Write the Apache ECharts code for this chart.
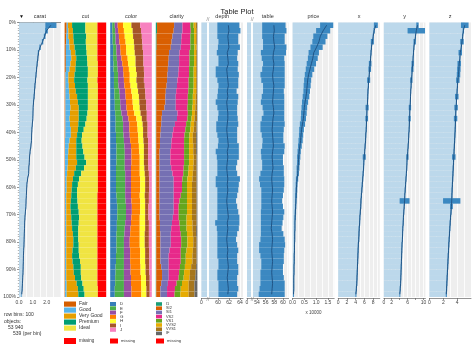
<!DOCTYPE html>
<html>
<head>
<meta charset="utf-8">
<script src="https://cdn.jsdelivr.net/npm/echarts@6/dist/echarts.min.js"></script>
<style>
html,body{margin:0;padding:0;background:#fff}
#chart{width:474px;height:346px}
</style>
</head>
<body>
<div id="chart"></div>
<script>
// ---- binned data: 50 bins, sorted by carat (descending) ----

// carat (mean / sd per bin)
const caratMean = [2.30,1.98,1.85,1.70,1.52,1.40,1.36,1.31,1.27,1.23,
  1.19,1.15,1.12,1.09,1.05,1.02,1.01,1.00,0.96,0.93,
  0.91,0.90,0.86,0.80,0.76,0.74,0.71,0.70,0.62,0.57,
  0.55,0.53,0.51,0.50,0.46,0.43,0.41,0.40,0.38,0.37,
  0.36,0.34,0.32,0.31,0.30,0.29,0.27,0.25,0.23,0.20];
const caratSd = [0.40,0.10,0.06,0.05,0.05,0.04,0.03,0.03,0.03,0.03,
  0.03,0.03,0.03,0.03,0.03,0.02,0.02,0.02,0.02,0.02,
  0.02,0.02,0.02,0.02,0.02,0.02,0.02,0.02,0.02,0.02,
  0.02,0.02,0.02,0.02,0.02,0.02,0.02,0.02,0.02,0.02,
  0.02,0.02,0.02,0.02,0.02,0.02,0.02,0.02,0.02,0.02];

// cut shares (%), missing included
const cutFair = [5,5,4,4,3,3,3,3,3,2, 2,2,2,2,2,2,2,2,2,2, 2,1,1,1,1,1,1,1,1,1, 1,1,1,1,1,1,1,1,1,1, 1,1,1,1,1,1,1,1,1,1];
const cutGood = [3,4,5,7,9,12,13,11,9,7, 7,8,9,10,11,12,11,10,11,13, 13,11,9,8,7,7,6,5,4,4, 4,3,3,3,3,3,3,3,3,3, 3,3,3,3,3,3,3,4,4,4];
const cutVeryGood = [10,11,12,11,12,11,12,13,14,15, 14,15,16,18,19,20,21,22,20,17, 15,16,18,19,20,22,20,17,15,13, 12,12,11,10,11,12,13,14,16,17, 17,15,14,15,17,18,21,24,27,28];
const cutPremium = [32,30,31,29,28,27,26,28,30,32, 32,31,29,26,24,22,21,19,17,14, 12,13,15,17,20,22,20,17,15,14, 13,14,16,18,19,19,17,15,13,12, 13,15,17,18,18,17,15,14,14,15];
const cutIdeal = [29,29,27,28,27,26,25,25,24,24, 24,24,24,24,24,24,25,27,30,34, 38,39,37,35,32,28,33,40,45,48, 50,49,48,47,45,44,45,46,46,46, 45,45,44,42,40,40,39,36,34,32];
const cutMissing = [21,21,21,21,21,21,21,20,20,20, 21,20,20,20,20,20,20,20,20,20, 20,20,20,20,20,20,20,20,20,20, 20,21,21,21,21,21,21,21,21,21, 21,21,21,21,21,21,21,21,20,20];

// color shares (%)
const colorD = [5,5,6,6,7,7,7,8,8,9, 9,9,10,10,11,11,12,13,13,13, 14,14,15,15,15,15,14,14,14,14, 14,15,16,17,17,17,16,16,15,15, 15,15,14,14,13,13,12,12,11,11];
const colorE = [6,7,7,7,8,8,9,9,10,10, 10,11,12,13,13,14,15,17,18,18, 18,19,19,20,20,20,21,22,22,22, 22,21,21,21,21,21,20,19,19,18, 18,18,19,19,20,20,21,21,22,22];
const colorF = [7,7,8,9,9,10,11,12,13,13, 14,14,14,14,14,14,14,14,15,15, 15,15,16,16,16,16,15,14,14,14, 14,14,14,14,14,13,14,14,14,14, 14,15,15,15,16,16,17,17,18,18];
const colorG = [13,14,14,15,14,14,15,14,14,15, 14,15,15,16,16,16,17,19,19,20, 20,20,19,19,20,20,21,21,22,22, 22,21,21,20,20,20,21,22,23,24, 24,24,24,24,24,24,24,24,24,24];
const colorH = [20,21,20,20,20,20,19,18,17,17, 16,16,16,16,16,16,15,13,13,13, 12,12,12,11,10,10,11,12,12,12, 12,12,12,12,12,13,13,13,12,12, 12,12,12,12,12,12,12,12,12,12];
const colorI = [21,20,21,20,20,20,19,19,19,18, 18,18,17,16,16,16,15,12,12,11, 11,11,10,10,10,10,10,10,10,10, 10,10,9,8,8,8,9,9,10,10, 10,10,10,10,9,9,9,9,8,8];
const colorJ = [28,26,24,23,22,21,20,20,19,18, 19,17,16,15,14,13,12,12,10,10, 10,9,9,9,9,9,8,7,6,6, 6,7,7,8,8,8,7,7,7,7, 7,6,6,6,6,6,5,5,5,5];

// clarity shares (%)
const clarityI1 = [3,3,2,2,2,1,1,1,1,1, 1,1,1,1,1,1,1,1,1,1, 1,1,1,1,1,1,1,1,1,1, 1,1,1,1,1,1,1,1,1,1, 1,1,1,1,1,1,1,1,1,1];
const claritySI2 = [41,40,38,36,34,31,30,29,28,27, 26,25,23,22,22,20,14,13,12,11, 10,9,9,8,8,8,8,8,8,8, 8,8,8,8,8,8,9,9,10,10, 10,10,10,10,12,14,14,12,10,10];
const claritySI1 = [20,21,22,23,24,25,25,26,26,26, 25,25,25,25,25,27,37,37,33,30, 29,28,27,26,26,26,28,31,34,34, 34,34,34,34,34,32,29,27,25,25, 25,22,20,20,18,16,16,16,16,16];
const clarityVS2 = [19,20,21,22,23,24,25,25,25,26, 27,28,29,29,29,28,25,25,27,29, 29,30,31,33,33,33,30,26,21,20, 20,17,14,12,12,14,18,21,24,25, 25,27,29,29,27,25,24,21,19,18];
const clarityVS1 = [8,8,9,9,10,11,11,11,11,11, 12,12,12,12,12,12,10,10,11,12, 12,12,12,12,12,12,12,12,12,12, 12,15,18,20,20,19,17,16,15,15, 15,14,12,12,12,12,12,13,14,14];
const clarityVVS2 = [5,5,5,5,5,5,5,5,6,6, 6,6,7,7,7,7,7,7,8,8, 8,9,10,10,11,11,11,11,12,12, 12,12,12,12,12,13,14,14,14,14, 14,15,16,16,15,14,14,16,19,20];
const clarityVVS1 = [3,2,2,2,1,2,2,2,2,2, 2,2,2,3,3,4,5,6,6,7, 8,8,7,7,7,7,8,9,10,11, 11,11,11,11,11,11,10,9,8,8, 8,9,10,10,12,14,14,14,14,14];
const clarityIF = [1,1,1,1,1,1,1,1,1,1, 1,1,1,1,1,1,1,1,2,2, 3,3,3,3,2,2,2,2,2,2, 2,2,2,2,2,2,2,3,3,2, 2,2,2,2,3,4,5,7,7,7];

// depth
const depthMean = [61.9,62.0,61.8,61.9,62.0,61.7,61.8,61.9,61.6,61.7,
  61.8,61.9,61.7,61.8,61.6,61.7,61.8,61.8,61.7,61.6,
  61.7,61.8,61.9,61.7,61.8,61.7,61.6,61.7,61.8,61.7,
  61.8,61.7,61.6,61.7,61.8,61.9,61.7,61.8,61.7,61.6,
  61.7,61.8,61.7,61.8,61.9,61.8,61.7,61.8,61.9,61.8];
const depthSd = [2.0,2.1,1.9,1.8,2.0,1.9,1.7,1.8,2.0,2.1,
  1.9,1.8,1.7,1.9,2.0,1.8,1.7,1.8,2.0,1.9,
  1.8,1.7,1.9,2.1,2.0,1.8,1.7,1.8,2.2,2.1,
  1.9,1.8,1.7,1.8,1.9,2.0,2.2,2.0,1.8,1.7,
  1.8,1.9,1.8,1.7,1.8,1.9,1.8,1.7,1.8,1.7];

// table
const tableMean = [57.9,58.0,57.8,57.9,58.1,57.8,57.7,57.9,57.8,57.6,
  57.7,57.9,57.8,57.7,57.6,57.8,57.9,57.7,57.6,57.5,
  57.6,57.7,57.8,57.6,57.5,57.6,57.7,57.5,57.4,57.5,
  57.6,57.5,57.4,57.5,57.6,57.5,57.4,57.3,57.5,57.6,
  57.5,57.4,57.5,57.6,57.5,57.4,57.5,57.6,57.5,57.4];
const tableSd = [2.7,2.8,2.6,2.5,2.7,2.9,2.6,2.5,2.6,2.8,
  2.7,2.5,2.4,2.6,2.7,2.5,2.4,2.6,2.8,2.7,
  2.5,2.4,2.6,2.7,2.5,2.4,2.5,2.7,2.9,2.8,
  2.6,2.5,2.4,2.5,2.7,2.6,2.5,2.4,2.6,2.8,
  3.0,2.9,2.7,2.6,2.5,2.6,2.7,2.8,2.9,3.0];

// price (x 10000)
const priceMean = [1.45,1.30,1.18,1.12,1.02,0.90,0.86,0.80,0.74,0.68,
  0.64,0.62,0.60,0.57,0.53,0.50,0.48,0.46,0.42,0.38,
  0.36,0.34,0.31,0.28,0.26,0.25,0.23,0.22,0.19,0.17,
  0.16,0.15,0.14,0.13,0.12,0.11,0.10,0.10,0.09,0.09,
  0.08,0.08,0.07,0.07,0.06,0.06,0.05,0.05,0.05,0.04];
const priceSd = [0.28,0.30,0.30,0.28,0.26,0.22,0.21,0.20,0.18,0.16,
  0.15,0.15,0.14,0.14,0.13,0.12,0.12,0.11,0.11,0.10,
  0.09,0.09,0.08,0.07,0.07,0.06,0.06,0.05,0.05,0.04,
  0.04,0.04,0.03,0.03,0.03,0.03,0.02,0.02,0.02,0.02,
  0.02,0.02,0.02,0.02,0.02,0.02,0.02,0.02,0.02,0.02];

// x, y, z
const xMean = [8.6,8.2,8.0,7.8,7.6,7.5,7.4,7.3,7.2,7.1,
  6.95,6.9,6.8,6.75,6.7,6.6,6.55,6.5,6.45,6.4,
  6.3,6.25,6.15,6.05,5.95,5.85,5.8,5.7,5.6,5.5,
  5.4,5.3,5.2,5.15,5.05,4.95,4.9,4.8,4.75,4.7,
  4.6,4.55,4.5,4.45,4.4,4.35,4.3,4.25,4.15,4.05];
const xSd = [0.45,0.15,0.12,0.35,0.12,0.12,0.12,0.30,0.30,0.12,
  0.35,0.12,0.12,0.12,0.12,0.35,0.12,0.30,0.12,0.12,
  0.12,0.12,0.12,0.12,0.35,0.12,0.12,0.12,0.12,0.12,
  0.12,0.12,0.12,0.12,0.12,0.12,0.12,0.12,0.12,0.12,
  0.12,0.12,0.12,0.12,0.12,0.12,0.12,0.12,0.12,0.12];
const yMean = [8.5,8.2,8.0,7.8,7.6,7.5,7.4,7.3,7.2,7.1,
  6.95,6.9,6.8,6.75,6.7,6.6,6.55,6.5,6.45,6.4,
  6.3,6.25,6.15,6.05,5.95,5.85,5.8,5.7,5.6,5.5,
  5.4,5.3,5.25,5.15,5.05,4.95,4.9,4.8,4.75,4.7,
  4.6,4.55,4.5,4.45,4.4,4.35,4.3,4.25,4.15,4.05];
const ySd = [0.30,2.20,0.12,0.30,0.12,0.12,0.12,0.30,0.30,0.12,
  0.30,0.12,0.12,0.12,0.12,0.30,0.12,0.30,0.12,0.12,
  0.12,0.12,0.12,0.12,0.30,0.12,0.12,0.12,0.12,0.12,
  0.12,0.12,1.25,0.12,0.12,0.12,0.12,0.12,0.12,0.12,
  0.12,0.12,0.12,0.12,0.12,0.12,0.12,0.12,0.12,0.12];
const zMean = [5.1,4.9,4.8,4.7,4.6,4.45,4.4,4.3,4.25,4.2,
  4.1,4.05,4.0,3.95,3.9,3.85,3.8,3.78,3.75,3.72,
  3.68,3.64,3.6,3.56,3.52,3.48,3.44,3.4,3.36,3.32,
  3.28,3.25,3.22,3.18,3.12,3.05,3.0,2.95,2.9,2.85,
  2.8,2.76,2.72,2.68,2.64,2.6,2.56,2.52,2.48,2.44];
const zSd = [0.55,0.10,0.08,0.25,0.08,0.25,0.08,0.25,0.25,0.25,
  0.25,0.08,0.08,0.25,0.08,0.25,0.08,0.25,0.08,0.08,
  0.08,0.08,0.08,0.08,0.25,0.08,0.08,0.08,0.08,0.08,
  0.08,0.08,1.25,0.20,0.08,0.08,0.08,0.08,0.08,0.08,
  0.08,0.08,0.08,0.08,0.08,0.08,0.08,0.08,0.08,0.08];

// tick labels of the numeric columns
const caratTicks = [0, 1, 2];
const depthTicks = [60, 62, 64];
const tableTicks = [54, 56, 58, 60];
const priceTicks = [0, 0.5, 1, 1.5];
const xTicks = [0, 2, 4, 6, 8];
const yTicks = [0, 2, 6, 10];
const zTicks = [0, 2, 4];

const cutNames = ['Fair', 'Good', 'Very Good', 'Premium', 'Ideal'];
const colorNames = ['D', 'E', 'F', 'G', 'H', 'I', 'J'];
const clarityNames = ['I1', 'SI2', 'SI1', 'VS2', 'VS1', 'VVS2', 'VVS1', 'IF'];

// ---- styling ----
const FONT = 'Liberation Sans, Arial, sans-serif';
const LIGHT = '#bcd8eb', BAND = '#3b88c1', LINE = '#1d4f80', BG = '#eeeeee', MISSING = '#ff0000';
const cutColors = ['#D55E00', '#56B4E9', '#E69F00', '#009E73', '#F0E442'];
const colorColors = ['#377EB8', '#4DAF4A', '#984EA3', '#FF7F00', '#FFFF33', '#A65628', '#F781BF'];
const clarityColors = ['#1B9E77', '#D95F02', '#7570B3', '#E7298A', '#66A61E', '#E6AB02', '#A6761D', '#666666'];

const bins = caratMean.map((_, i) => i);
const range = (a, b, s) => { const r = []; for (let v = a; v <= b + 1e-9; v += s) r.push(+v.toFixed(4)); return r; };

const columns = [
  { name: 'carat', kind: 'num', mean: caratMean, sd: caratSd, min: 0, max: 3,
    ticks: caratTicks, labels: caratTicks, fmt: v => v.toFixed(1), gridVals: range(0.5, 2.5, 0.5) },
  { name: 'cut', kind: 'cat', parts: [
    [cutNames[0], cutColors[0], cutFair], [cutNames[1], cutColors[1], cutGood],
    [cutNames[2], cutColors[2], cutVeryGood], [cutNames[3], cutColors[3], cutPremium],
    [cutNames[4], cutColors[4], cutIdeal], ['missing', MISSING, cutMissing]] },
  { name: 'color', kind: 'cat', parts: [
    ['D', colorColors[0], colorD], ['E', colorColors[1], colorE], ['F', colorColors[2], colorF],
    ['G', colorColors[3], colorG], ['H', colorColors[4], colorH], ['I', colorColors[5], colorI],
    ['J', colorColors[6], colorJ], ['missing', MISSING, bins.map(() => 0)]] },
  { name: 'clarity', kind: 'cat', parts: [
    ['I1', clarityColors[0], clarityI1], ['SI2', clarityColors[1], claritySI2],
    ['SI1', clarityColors[2], claritySI1], ['VS2', clarityColors[3], clarityVS2],
    ['VS1', clarityColors[4], clarityVS1], ['VVS2', clarityColors[5], clarityVVS2],
    ['VVS1', clarityColors[6], clarityVVS1], ['IF', clarityColors[7], clarityIF],
    ['missing', MISSING, bins.map(() => 0)]] },
  { name: 'depth', kind: 'num', mean: depthMean, sd: depthSd, min: 57, max: 64.56, brk: 58.2,
    ticks: [57].concat(depthTicks), labels: [57].concat(depthTicks),
    fmt: v => (v === 57 ? '0' : String(v)), gridVals: range(59, 64, 1) },
  { name: 'table', kind: 'num', mean: tableMean, sd: tableSd, min: 51.7, max: 61.3, brk: 52.9,
    ticks: [51.7].concat(tableTicks), labels: [51.7].concat(tableTicks),
    fmt: v => (v === 51.7 ? '0' : String(v)), gridVals: range(54, 61, 1) },
  { name: 'price', kind: 'num', mean: priceMean, sd: priceSd, min: 0, max: 1.77,
    ticks: priceTicks, labels: priceTicks, fmt: v => v.toFixed(1), gridVals: range(0.25, 1.75, 0.25), axisName: 'x 10000' },
  { name: 'x', kind: 'num', mean: xMean, sd: xSd, min: 0, max: 9.5,
    ticks: xTicks, labels: xTicks, fmt: v => String(v), gridVals: range(1, 9, 1) },
  { name: 'y', kind: 'num', mean: yMean, sd: ySd, min: 0, max: 10.5,
    ticks: range(0, 10, 2), labels: yTicks, fmt: v => String(v), gridVals: range(1, 10, 1) },
  { name: 'z', kind: 'num', mean: zMean, sd: zSd, min: 0, max: 6,
    ticks: zTicks, labels: zTicks, fmt: v => String(v), gridVals: range(1, 5, 1) }
];

// ---- layout ----
const COL_LEFT = 19, COL_PITCH = 45.6, COL_W = 41.6, TOP = 22.5, HEIGHT = 274.5;
const axisGray = '#666';

const grid = [], xAxis = [], yAxis = [], series = [];

columns.forEach((col, c) => {
  const isNum = col.kind === 'num';
  grid.push({ left: COL_LEFT + c * COL_PITCH, top: TOP, width: COL_W, height: HEIGHT,
    show: isNum, backgroundColor: BG, borderWidth: 0 });
  yAxis.push({ type: 'category', gridIndex: c, data: bins, inverse: true, show: false });

  // bottom scale
  if (isNum) {
    xAxis.push({ type: 'value', gridIndex: c, position: 'bottom', min: col.min, max: col.max, offset: 1,
      axisLine: { show: true, lineStyle: { color: axisGray, width: 0.7 } },
      axisTick: { show: true, length: 2, customValues: col.ticks, lineStyle: { color: axisGray, width: 0.7 } },
      axisLabel: { customValues: col.labels, formatter: col.fmt, fontSize: 5, margin: 2.5, color: '#444', fontFamily: FONT },
      splitLine: { show: false },
      name: col.axisName || '', nameLocation: 'middle', nameGap: 12,
      nameTextStyle: { fontSize: 4.5, color: '#444', fontFamily: FONT } });
  } else {
    xAxis.push({ type: 'value', gridIndex: c, min: 0, max: 1, show: false });
  }
  // top: column header and vertical grid lines
  xAxis.push({ type: 'value', gridIndex: c, position: 'top',
    min: isNum ? col.min : 0, max: isNum ? col.max : 1,
    axisLine: { show: false },
    axisTick: { show: false, customValues: isNum ? col.gridVals : undefined },
    axisLabel: { show: false },
    splitLine: { show: isNum, lineStyle: { color: '#ffffff', width: 0.8 } },
    name: col.name, nameLocation: 'middle', nameGap: 3.5,
    nameTextStyle: { fontSize: 5.5, color: '#333', fontFamily: FONT } });

  const xi = 2 * c, yi = c;
  if (isNum) {
    const meanBar = { type: 'bar', xAxisIndex: xi, yAxisIndex: yi, data: col.mean,
      barCategoryGap: '0%', barGap: '-100%', itemStyle: { color: LIGHT }, silent: true, z: 2 };
    if (col.brk !== undefined) {
      meanBar.markLine = { silent: true, symbol: ['none', 'none'], animation: false,
        lineStyle: { color: '#ffffff', width: 1.6, type: 'solid' },
        label: { show: true, formatter: '//', fontSize: 5, color: '#777', distance: 0.5, fontFamily: FONT },
        data: [{ xAxis: col.brk, label: { position: 'start' } }, { xAxis: col.brk, label: { position: 'end' } }] };
    }
    series.push(meanBar);
    series.push({ type: 'bar', xAxisIndex: xi, yAxisIndex: yi, stack: 'sd' + c,
      data: col.mean.map((m, i) => m - col.sd[i]),
      barCategoryGap: '0%', barGap: '-100%', itemStyle: { color: 'rgba(0,0,0,0)' }, silent: true, z: 3 });
    series.push({ type: 'bar', xAxisIndex: xi, yAxisIndex: yi, stack: 'sd' + c,
      data: col.sd.map(s => 2 * s),
      barCategoryGap: '0%', barGap: '-100%', itemStyle: { color: BAND }, silent: true, z: 3 });
    series.push({ type: 'line', xAxisIndex: xi, yAxisIndex: yi, data: col.mean,
      symbol: 'none', lineStyle: { color: LINE, width: 0.9 }, silent: true, z: 5 });
  } else {
    const totals = bins.map(i => col.parts.reduce((s, p) => s + p[2][i], 0));
    col.parts.forEach(([name, color, vals]) => {
      series.push({ type: 'bar', name: name, xAxisIndex: xi, yAxisIndex: yi, stack: 'cat' + c,
        data: vals.map((v, i) => v / totals[i]),
        barCategoryGap: '0%', itemStyle: { color: color }, silent: true });
    });
  }
});

// percentage scale on the left
yAxis.push({ type: 'value', gridIndex: 0, position: 'left', min: 0, max: 100, interval: 10, inverse: true, offset: 1,
  axisLine: { show: true, lineStyle: { color: axisGray, width: 0.7 } },
  axisTick: { show: true, length: 2, lineStyle: { color: axisGray, width: 0.7 } },
  minorTick: { show: true, splitNumber: 10, length: 1.2, lineStyle: { color: axisGray, width: 0.5 } },
  axisLabel: { formatter: '{value}%', fontSize: 5, margin: 2, color: '#444', fontFamily: FONT },
  splitLine: { show: false } });

const legendBase = { orient: 'vertical', icon: 'rect', padding: 0, selectedMode: false, itemGap: 0.5 };
const legend = [
  Object.assign({}, legendBase, { left: 64, top: 301.5, data: cutNames, itemWidth: 12, itemHeight: 5.2, itemGap: 0.8,
    textStyle: { fontSize: 5, color: '#333', fontFamily: FONT, padding: [0, 0, 0, -2] } }),
  Object.assign({}, legendBase, { left: 64, top: 338, data: ['missing'], itemWidth: 12, itemHeight: 6,
    textStyle: { fontSize: 4.5, color: '#333', fontFamily: FONT, padding: [0, 0, 0, -2] } }),
  Object.assign({}, legendBase, { left: 110, top: 302, data: colorNames, itemWidth: 6, itemHeight: 4, itemGap: 0.3,
    textStyle: { fontSize: 4.4, color: '#333', fontFamily: FONT, padding: [0, 0, 0, -1] } }),
  Object.assign({}, legendBase, { left: 110, top: 338.5, data: ['missing'], itemWidth: 8, itemHeight: 5,
    textStyle: { fontSize: 4.2, color: '#333', fontFamily: FONT, padding: [0, 0, 0, -2] } }),
  Object.assign({}, legendBase, { left: 156, top: 302, data: clarityNames, itemWidth: 6, itemHeight: 3.6, itemGap: 0.2,
    textStyle: { fontSize: 3.9, color: '#333', fontFamily: FONT, padding: [0, 0, 0, -1] } }),
  Object.assign({}, legendBase, { left: 156, top: 338.5, data: ['missing'], itemWidth: 8, itemHeight: 5,
    textStyle: { fontSize: 4.2, color: '#333', fontFamily: FONT, padding: [0, 0, 0, -2] } })
];

const infoStyle = { fontSize: 5, fill: '#333', fontFamily: FONT };
const option = {
  animation: false,
  backgroundColor: '#ffffff',
  textStyle: { fontFamily: FONT },
  title: { text: 'Table Plot', left: 'center', top: 3,
    textStyle: { fontSize: 7.5, fontWeight: 'normal', color: '#222', fontFamily: FONT } },
  grid, xAxis, yAxis, series, legend,
  graphic: [
    { type: 'text', left: 4, top: 312.5, style: Object.assign({ text: 'row bins: 100' }, infoStyle) },
    { type: 'text', left: 4, top: 319.5, style: Object.assign({ text: 'objects:' }, infoStyle) },
    { type: 'text', left: 8, top: 325.5, style: Object.assign({ text: '53 940' }, infoStyle) },
    { type: 'text', left: 13, top: 331.5, style: Object.assign({ text: '539 (per bin)' }, infoStyle) },
    { type: 'text', left: 19, top: 14.5, style: { text: '\u25BC', fontSize: 5, fill: '#111', fontFamily: FONT } }
  ]
};

const chart = echarts.init(document.getElementById('chart'), null, { renderer: 'canvas', width: 474, height: 346 });
chart.setOption(option);
</script>
</body>
</html>
